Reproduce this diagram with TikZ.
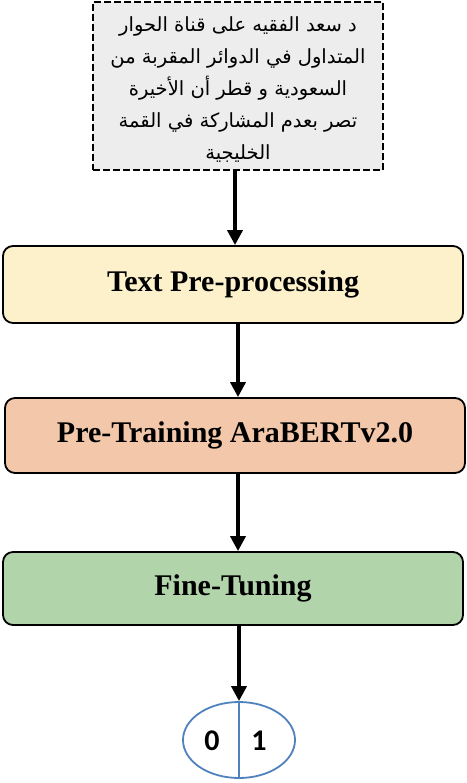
\documentclass[tikz,border=0pt]{standalone}
\usepackage{fontspec}
\setmainfont{Liberation Serif}
\newfontfamily\arabicfont[Script=Arabic]{DejaVu Sans}
\newfontfamily\digitfont{Carlito}
\TeXXeTstate=1
\usetikzlibrary{arrows.meta, shapes.geometric, positioning}
\definecolor{inputgray}{RGB}{237,237,237}
\definecolor{prepyellow}{RGB}{252,241,202}
\definecolor{trainorange}{RGB}{243,199,169}
\definecolor{tunegreen}{RGB}{178,212,171}
\definecolor{outblue}{RGB}{79,129,189}

\begin{document}
\begin{tikzpicture}[
    x=1pt, y=-1pt,
    stage/.style={rectangle, draw=black, line width=1.8pt, rounded corners=10pt,
                  minimum width=460pt, align=center,
                  font=\fontsize{30}{34}\selectfont\bfseries},
    inputbox/.style={rectangle, draw=black, line width=1.8pt, dash pattern=on 7pt off 3pt,
                     fill=inputgray, minimum width=290pt, minimum height=168pt},
    arrow/.style={-{Triangle[length=15pt,width=15pt]}, line width=3.6pt, color=black},
    digit/.style={font=\digitfont\bfseries\fontsize{30}{34}\selectfont}
]
\useasboundingbox (0,0) rectangle (466,783);
\node[inputbox] (tweet) at (238,86) {};
\node[align=center, font=\arabicfont\fontsize{19.5}{32}\selectfont] (tweettext) at (238,90)
    {\beginR د سعد الفقيه على قناة الحوار\endR\\
     \beginR المتداول في الدوائر المقربة من\endR\\
     \beginR السعودية و قطر أن الأخيرة\endR\\
     \beginR تصر بعدم المشاركة في القمة\endR\\
     \beginR الخليجية\endR};
\node[stage, fill=prepyellow, minimum height=77pt] (prep) at (233,284.5) {Text Pre-processing};
\node[stage, fill=trainorange, minimum height=75pt] (train) at (235,435.5) {Pre-Training AraBERTv2.0};
\node[stage, fill=tunegreen, minimum height=73pt] (tune) at (233,588.5) {Fine-Tuning};
\node[ellipse, draw=outblue, line width=1.8pt, minimum width=112pt, minimum height=76pt] (out) at (239,740) {};
\draw[outblue, line width=1.5pt] (out.north) -- (out.south);
\node[digit] (zero) at (212,741) {0};
\node[digit] (one) at (259,741) {1};
\draw[arrow] (tweet.south) ++(-3,0) coordinate (a1) -- (a1 |- prep.north);
\draw[arrow] (prep.south) ++(5,0) coordinate (a2) -- (a2 |- train.north);
\draw[arrow] (train.south) ++(3,0) coordinate (a3) -- (a3 |- tune.north);
\draw[arrow] (tune.south) ++(6,0) coordinate (a4) -- (a4 |- out.north);
\end{tikzpicture}
\end{document}
